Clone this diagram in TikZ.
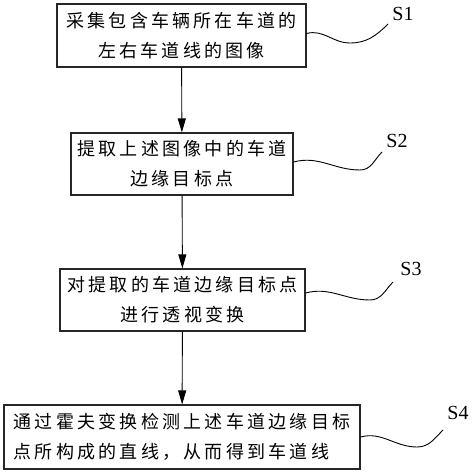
\documentclass[tikz,border=0pt]{standalone}
\usepackage{fontspec}
\setmainfont{Liberation Serif}
\newfontfamily\cjkfont[LetterSpace=18]{Noto Sans CJK SC}
\usetikzlibrary{arrows.meta}

\tikzset{
  stepbox/.style={draw=black!85, line width=1.2pt, align=center, inner sep=0pt,
    font=\cjkfont\fontsize{18}{30}\selectfont},
  flow/.style={draw, line width=0.9pt, -{Triangle[length=14pt,width=8pt]}},
  wave/.style={draw, line width=0.9pt},
  steplabel/.style={font=\fontsize{20}{24}\selectfont}
}

\begin{document}
\begin{tikzpicture}[x=1pt,y=-1pt]
        \useasboundingbox (0,0) rectangle (474,476);

        \node[stepbox, minimum width=249pt, minimum height=63pt] (b1) at (181.5,35.5) {采集包含车辆所在车道的\\左右车道线的图像};
        \node[stepbox, minimum width=222pt, minimum height=62pt] (b2) at (182,164) {提取上述图像中的车道\\边缘目标点};
        \node[stepbox, minimum width=245pt, minimum height=62pt] (b3) at (182.5,300) {对提取的车道边缘目标点\\进行透视变换};
        \node[stepbox, minimum width=356pt, minimum height=64pt, align=left] (b4) at (182,437) {通过霍夫变换检测上述车道边缘目标\\点所构成的直线，从而得到车道线};

        \node[steplabel] (s1) at (403,14) {S1};
        \node[steplabel] (s2) at (397,141) {S2};
        \node[steplabel] (s3) at (411,269) {S3};
        \node[steplabel] (s4) at (458,413) {S4};

        \coordinate (w1) at (388,24);
        \coordinate (w2) at (382,152);
        \coordinate (w3) at (393,282);
        \coordinate (w4) at (443,430);

        \draw[flow] (b1) -- (b2);
        \draw[flow] (b2) -- (b3);
        \draw[flow] (b3) -- (b4);

        \draw[wave] ([yshift=2pt]b1.east) to[out=15,in=180] (350,43) to[out=0,in=-135] (w1);
        \draw[wave] ([yshift=2pt]b2.east) to[out=15,in=180] (360,170) to[out=0,in=-135] (w2);
        \draw[wave] ([yshift=7pt]b3.east) to[out=15,in=180] (370,300) to[out=0,in=-135] (w3);
        \draw[wave] (b4.east) to[out=15,in=180] (417,447) to[out=0,in=-135] (w4);

\end{tikzpicture}
\end{document}
